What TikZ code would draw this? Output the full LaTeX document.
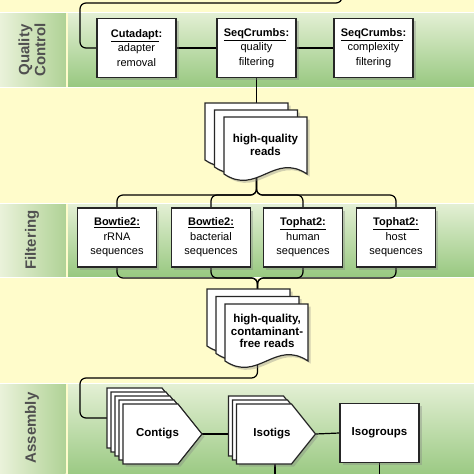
\documentclass[tikz,border=0pt]{standalone}
\usepackage{fontspec}
\setmainfont{Liberation Sans}
\usetikzlibrary{shadows}

\definecolor{paleyellow}{RGB}{255,252,203}
\definecolor{bandtop}{RGB}{228,240,213}
\definecolor{bandbot}{RGB}{152,200,128}
\definecolor{labelleft}{RGB}{234,242,218}
\definecolor{labelright}{RGB}{176,210,150}
\definecolor{labelgray}{RGB}{80,80,80}

\pgfdeclarelayer{bands}
\pgfdeclarelayer{links}
\pgfsetlayers{bands,links,main}

\tikzset{
  softshadow/.style={drop shadow={shadow xshift=2.5pt, shadow yshift=-2.5pt, opacity=0.35}},
  toolbox/.style={draw=black!85, line width=1.2pt, fill=white, softshadow,
    minimum width=79pt, minimum height=59pt, inner sep=1pt, align=center,
    font=\fontsize{11}{14.5}\selectfont},
  sheet/.style={draw=black!85, line width=1.2pt, fill=white, softshadow},
  readtext/.style={align=center, font=\bfseries\fontsize{11.5}{12.5}\selectfont},
  bandlabel/.style={rotate=90, align=center, text=labelgray,
    font=\bfseries\fontsize{15}{16}\selectfont},
  link/.style={line width=1.2pt, rounded corners=6pt},
}

% one sheet of a stack of reads
\newcommand{\readsheet}[2]{%
  \draw[sheet] (#1,#2) -- ++(83,0) -- ++(0,57)
    .. controls ++(-33,-22) and ++(33,22) .. ++(-83,0) -- cycle;}
% one sheet of a stack of contigs
\newcommand{\contigsheet}[2]{%
  \draw[sheet] (#1,#2) -- ++(55,0) -- ++(24,30) -- ++(-24,30) -- ++(-55,0) -- cycle;}

\begin{document}
\begin{tikzpicture}[x=1pt,y=-1pt]
  \useasboundingbox (0,0) rectangle (474,474);

  % background and stage bands
  \begin{pgfonlayer}{bands}
    \fill[paleyellow] (0,0) rectangle (474,474);
    \foreach \top/\bot in {12/87, 203/277, 383/478} {
      \shade[left color=labelleft, right color=labelright] (0,\top) rectangle (65.5,\bot);
      \shade[top color=bandtop, bottom color=bandbot] (68,\top) rectangle (474,\bot);
      \draw[white, line width=0.8pt] (0,\top) -- (474,\top);
      \draw[white, line width=0.8pt] (0,\bot) -- (474,\bot);
    }
  \end{pgfonlayer}

  \node[bandlabel] (qclabel) at (32,50) {Quality\\Control};
  \node[bandlabel] (filtlabel) at (32,240) {Filtering};
  \node[bandlabel] (asmlabel) at (32,428) {Assembly};

  % quality control
  \node[toolbox] (cut) at (136.5,48) {\textbf{\underline{Cutadapt}:}\\adapter\\removal};
  \node[toolbox] (seqq) at (256.5,48) {\textbf{\underline{SeqCrumbs}:}\\quality\\filtering};
  \node[toolbox] (seqc) at (373.5,48) {\textbf{\underline{SeqCrumbs}:}\\complexity\\filtering};
  \coordinate (qcin) at (342,-8);

  % high-quality reads
  \readsheet{205}{103}
  \readsheet{214.5}{110}
  \readsheet{224}{117}
  \node[readtext] (hq) at (265.5,145) {high-quality\\reads};
  \coordinate (hqin) at (256.5,103);
  \coordinate (hqout) at (256.5,178);

  % filtering
  \node[toolbox] (rrna) at (117,237.5) {\textbf{\underline{Bowtie2:}}\\rRNA\\sequences};
  \node[toolbox] (bact) at (211,237.5) {\textbf{\underline{Bowtie2:}}\\bacterial\\sequences};
  \node[toolbox] (human) at (303,237.5) {\textbf{\underline{Tophat2:}}\\human\\sequences};
  \node[toolbox] (host) at (396,237.5) {\textbf{\underline{Tophat2:}}\\host\\sequences};

  % clean reads
  \readsheet{207}{289}
  \readsheet{216}{296.5}
  \readsheet{225}{304}
  \node[readtext] (clean) at (267,331) {high-quality,\\contaminant-\\free reads};
  \coordinate (cleanin) at (257.5,289);
  \coordinate (cleanout) at (257.5,364);

  % assembly
  \foreach \i in {0,...,4}
    \contigsheet{107+4*\i}{388+4*\i}
  \node[readtext] (contigs) at (157.5,434) {Contigs};
  \coordinate (ctgin) at (107,418);
  \coordinate (ctgtip) at (202,434);
  \foreach \i in {0,...,2}
    \contigsheet{228.5+4*\i}{396+4*\i}
  \node[readtext] (isotigs) at (272,434) {Isotigs};
  \coordinate (isoin) at (228.5,434);
  \coordinate (isotip) at (315.5,434);
  \coordinate (isobot) at (275,464);
  \node[toolbox, font=\bfseries\fontsize{11.5}{13}\selectfont] (isog) at (379.5,433) {Isogroups};
  \coordinate (isoout) at (275,480);
  \coordinate (isogout) at (379.5,480);

  \begin{pgfonlayer}{links}
    \draw[link] (qcin) |- (80,3) |- (cut.west);
    \draw[link] (cut.east) -- (seqq.west);
    \draw[link] (seqq.east) -- (seqc.west);
    \draw[link] (seqq.south) -- (hqin);
    \foreach \b in {rrna,bact,human,host} {
      \draw[link] (hqout) -- (256.5,195) -| (\b.north);
      \draw[link] (\b.south) |- (257.5,278) -- (cleanin);
    }
    \draw[link] (cleanout) |- (80,378) |- (ctgin);
    \draw[link] (ctgtip) -- (isoin);
    \draw[link] (isotip) -- (isog.west);
    \draw[link] (isobot) -- (isoout);
    \draw[link] (isog.south) -- (isogout);
  \end{pgfonlayer}
\end{tikzpicture}
\end{document}
